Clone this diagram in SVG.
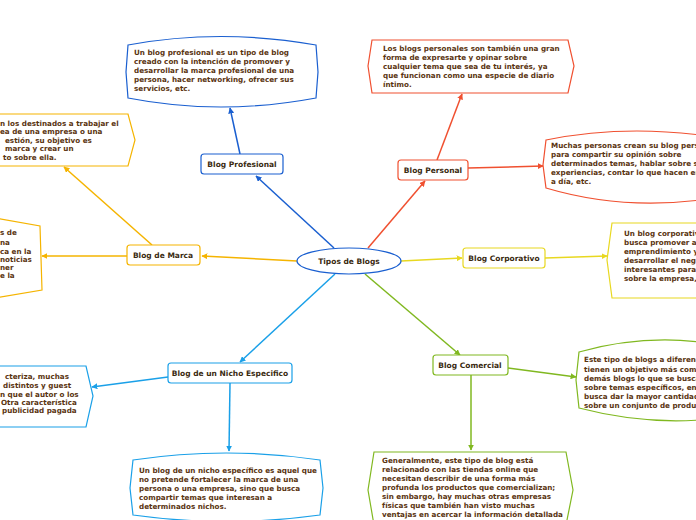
<svg xmlns="http://www.w3.org/2000/svg" width="696" height="520" viewBox="0 0 696 520">
<defs>
<marker id="a" viewBox="0 0 10 10" refX="9" refY="5" markerWidth="4" markerHeight="4" orient="auto-start-reverse"><path d="M0,0L10,5L0,10z" fill="context-stroke"/></marker>
</defs>
<style>
text{font-family:"DejaVu Sans",Verdana,sans-serif;font-weight:bold;font-size:7.2px;fill:#5a3410}
.t{font-size:7.5px;fill:#3a2a10}
.n{fill:#fff;stroke-width:1.2}
.c path{fill:none;stroke-width:1.5;marker-end:url(#a)}
</style>
<rect width="696" height="520" fill="#fff"/>
<g class="c">
<path d="M334,248L256,176" stroke="#1a5fd0"/>
<path d="M240,154L230,108" stroke="#1a5fd0"/>
<path d="M368,248L425,181" stroke="#f05030"/>
<path d="M437,160L462,94" stroke="#f05030"/>
<path d="M468,168L543,166" stroke="#f05030"/>
<path d="M297,261L202,256" stroke="#f5b400"/>
<path d="M152,245L64,167" stroke="#f5b400"/>
<path d="M127,256L42,256" stroke="#f5b400"/>
<path d="M401,261L462,258" stroke="#e8d820"/>
<path d="M545,258L607,256" stroke="#e8d820"/>
<path d="M335,274L240,362" stroke="#1aa0e8"/>
<path d="M168,377L92,387" stroke="#1aa0e8"/>
<path d="M230,383L229,451" stroke="#1aa0e8"/>
<path d="M365,274L460,355" stroke="#80b820"/>
<path d="M508,368L576,377" stroke="#80b820"/>
<path d="M471,375L471,450" stroke="#80b820"/>
</g>
<g id="center"><ellipse cx="349" cy="261" rx="52" ry="13" class="n" stroke="#1a5fd0"/><text x="349" y="264" text-anchor="middle" class="t">Tipos de Blogs</text></g>
<g id="profesional"><rect x="201" y="154" width="82" height="20" rx="3" class="n" stroke="#1a5fd0"/><text x="242" y="167" text-anchor="middle" class="t">Blog Profesional</text></g>
<g id="personal"><rect x="398" y="160" width="70" height="20" rx="3" class="n" stroke="#f05030"/><text x="433" y="173" text-anchor="middle" class="t">Blog Personal</text></g>
<g id="marca"><rect x="127" y="245" width="73" height="20" rx="3" class="n" stroke="#f5b400"/><text x="163" y="258" text-anchor="middle" class="t">Blog de Marca</text></g>
<g id="corporativo"><rect x="463" y="248" width="82" height="20" rx="3" class="n" stroke="#e8d820"/><text x="504" y="261" text-anchor="middle" class="t">Blog Corporativo</text></g>
<g id="nicho"><rect x="168" y="363" width="124" height="20" rx="3" class="n" stroke="#1aa0e8"/><text x="230" y="376" text-anchor="middle" class="t">Blog de un Nicho Especifico</text></g>
<g id="comercial"><rect x="433" y="355" width="75" height="20" rx="3" class="n" stroke="#80b820"/><text x="470" y="368" text-anchor="middle" class="t">Blog Comercial</text></g>

<g id="i-prof"><path d="M128,45Q220,28 316,45L318,72L316,98Q220,116 128,98L126,72Z" class="n" stroke="#1a5fd0"/>
<text x="134" y="55">Un blog profesional es un tipo de blog</text><text x="134" y="64">creado con la intención de promover y</text><text x="134" y="73">desarrollar la marca profesional de una</text><text x="134" y="82">persona, hacer networking, ofrecer sus</text><text x="134" y="91">servicios, etc.</text></g>
<g id="i-pers1"><path d="M372,40L568,40L574,66L568,93L372,93L368,66Z" class="n" stroke="#f05030"/>
<text x="383" y="51">Los blogs personales son también una gran</text><text x="383" y="60">forma de expresarte y opinar sobre</text><text x="383" y="69">cualquier tema que sea de tu interés, ya</text><text x="383" y="78">que funcionan como una especie de diario</text><text x="383" y="87">íntimo.</text></g>
<g id="i-pers2"><path d="M546,140Q620,125 700,135L700,200Q620,210 546,188L543,165Z" class="n" stroke="#f05030"/>
<text x="551" y="148">Muchas personas crean su blog personal</text><text x="551" y="157">para compartir su opinión sobre</text><text x="551" y="166">determinados temas, hablar sobre sus</text><text x="551" y="175">experiencias, contar lo que hacen en su día</text><text x="551" y="184">a día, etc.</text></g>
<g id="i-marca1"><path d="M-5,114L128,114L135,140L128,166L-5,166Z" class="n" stroke="#f5b400"/>
<text x="0" y="126">n los destinados a trabajar el</text><text x="0" y="134">ea de una empresa o una</text><text x="0" y="143" dx="5">estión, su objetivo es</text><text x="0" y="151" dx="5">marca y crear un</text><text x="0" y="160" dx="3">to sobre ella.</text></g>
<g id="i-marca2"><path d="M-5,218L40,226L42,290L-5,298Z" class="n" stroke="#f5b400"/>
<text x="0" y="235">s de</text><text x="0" y="245">na</text><text x="0" y="254">ca en la</text><text x="0" y="262">noticias</text><text x="0" y="270">ner</text><text x="0" y="278">e la</text></g>
<g id="i-corp"><path d="M612,223L700,223L700,298L612,298L607,260Z" class="n" stroke="#e8d820"/>
<text x="624" y="236">Un blog corporativo</text><text x="624" y="245">busca promover a</text><text x="624" y="254">emprendimiento y</text><text x="624" y="263">desarrollar el negocio</text><text x="624" y="272">interesantes para</text><text x="624" y="281">sobre la empresa,</text></g>
<g id="i-nicho1"><path d="M-5,366L86,366L93,396L86,427L-5,427Z" class="n" stroke="#1aa0e8"/>
<text x="0" y="379" dx="5">cteriza, muchas</text><text x="0" y="388" dx="3">distintos y guest</text><text x="0" y="397">n que el autor o los</text><text x="0" y="405" dx="1">Otra característica</text><text x="0" y="413" dx="2">publicidad pagada</text></g>
<g id="i-nicho2"><path d="M133,460Q226,446 320,460L323,488L320,515Q226,528 133,515L130,488Z" class="n" stroke="#1aa0e8"/>
<text x="139" y="473">Un blog de un nicho específico es aquel que</text><text x="139" y="482">no pretende fortalecer la marca de una</text><text x="139" y="491">persona o una empresa, sino que busca</text><text x="139" y="500">compartir temas que interesan a</text><text x="139" y="509">determinados nichos.</text></g>
<g id="i-com1"><path d="M579,352Q640,335 700,342L700,420Q640,424 579,408L576,380Z" class="n" stroke="#80b820"/>
<text x="584" y="362">Este tipo de blogs a diferencia</text><text x="584" y="372">tienen un objetivo más comercial</text><text x="584" y="381">demás blogs lo que se busca</text><text x="584" y="390">sobre temas específicos, en este</text><text x="584" y="399">busca dar la mayor cantidad</text><text x="584" y="408">sobre un conjunto de productos</text></g>
<g id="i-com2"><path d="M374,452L566,452L573,490L566,525L374,525L368,490Z" class="n" stroke="#80b820"/>
<text x="382" y="463">Generalmente, este tipo de blog está</text><text x="382" y="472">relacionado con las tiendas online que</text><text x="382" y="481">necesitan describir de una forma más</text><text x="382" y="490">profunda los productos que comercializan;</text><text x="382" y="499">sin embargo, hay muchas otras empresas</text><text x="382" y="508">físicas que también han visto muchas</text><text x="382" y="517">ventajas en acercar la información detallada</text><text x="382" y="526">de sus productos a sus consumidores.</text></g>
</svg>
